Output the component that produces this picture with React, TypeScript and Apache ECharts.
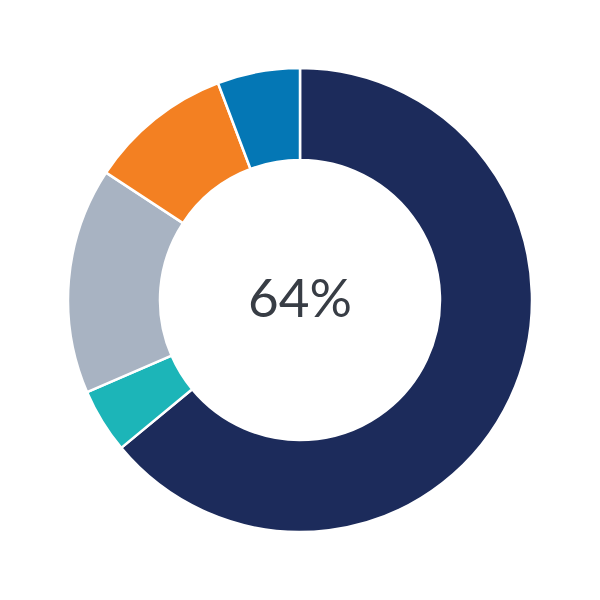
import React, { useEffect, useRef } from "react";
import * as echarts from "echarts";

const categories = ["Navy", "Teal", "Gray", "Orange", "Blue"];
const values = [64, 4.5, 15.75, 10, 5.75];
const colors = ["#1c2b5b", "#1cb5b8", "#a8b3c2", "#f38022", "#0477b5"];
const centerLabel = "64%";

export default function App() {
  const ref = useRef<HTMLDivElement>(null);
  useEffect(() => {
    if (!ref.current) return;
    const chart = echarts.init(ref.current, null, { renderer: "svg" });
    chart.setOption({
      animation: false,
      backgroundColor: "#ffffff",
      graphic: [
        {
          type: "text",
          x: 300,
          y: 296,
          style: {
            text: centerLabel,
            fontFamily: "Lato",
            fontWeight: 400,
            fontSize: 53,
            fill: "#383d45",
            textAlign: "center",
            textVerticalAlign: "middle",
          },
        },
      ],
      series: [
        {
          type: "pie",
          center: [300, 300],
          radius: [140, 232],
          startAngle: 90,
          clockwise: true,
          label: { show: false },
          labelLine: { show: false },
          itemStyle: { borderColor: "#ffffff", borderWidth: 2.5 },
          emphasis: { disabled: true },
          data: categories.map((name, i) => ({
            name,
            value: values[i],
            itemStyle: { color: colors[i] },
          })),
        },
      ],
    });
    return () => chart.dispose();
  }, []);
  return (
    <div
      ref={ref}
      style={{ position: "fixed", left: 0, top: 0, width: 600, height: 600 }}
    />
  );
}
